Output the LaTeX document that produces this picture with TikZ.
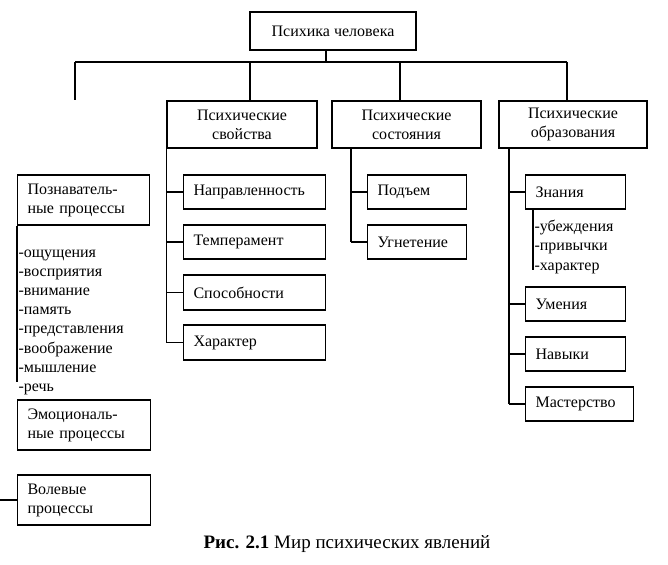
\documentclass[tikz,border=0pt]{standalone}
\usepackage{fontspec}
\setmainfont{Liberation Serif}
\begin{document}
\begin{tikzpicture}[x=1pt,y=-1pt,
  every path/.style={line width=1.1pt},
  txt/.style={font=\fontsize{16}{19}\selectfont},
  cbox/.style={txt, draw, line width=1.1pt, align=center, inner sep=0pt},
  lbox/.style={txt, draw, line width=1.1pt, align=left, inner xsep=10pt, inner ysep=0pt},
  list/.style={font=\fontsize{16}{19.2}\selectfont, align=left, inner sep=0pt, anchor=base west},
  con/.style={line width=1.1pt}]
\useasboundingbox (0,0) rectangle (668,564);

% top
\node[cbox, minimum width=166, minimum height=38] (top) at (333,31) {Психика человека};
\node[cbox, minimum width=150, minimum height=47] (svo) at (242,124.5) {Психические\\свойства};
\node[cbox, minimum width=149, minimum height=47] (sos) at (406.5,124.5) {Психические\\состояния};
\node[cbox, minimum width=148, minimum height=47] (obr) at (573,124.5) {Психические\\образования};

\coordinate (topd) at (326,50);
\coordinate (hl) at (75,62);
\coordinate (hr) at (567,62);
\coordinate (d0e) at (75,100);
\coordinate (d1) at (250,62);
\coordinate (d2) at (400,62);
\draw[con] (topd) -- (topd |- hl);
\draw[con] (hl) -- (hr);
\draw[con] (hl) -- (d0e);
\draw[con] (d1) -- (d1 |- svo.north);
\draw[con] (d2) -- (d2 |- sos.north);
\draw[con] (hr) -- (hr |- obr.north);

% left column
\node[lbox, anchor=west, minimum height=50, text width=112pt] (poz) at (17,200) {Познаватель-\\ные процессы};
\node[list] (plist) at (18,391.4) {-ощущения\\-восприятия\\-внимание\\-память\\-представления\\-воображение\\-мышление\\-речь};
\coordinate (pozv) at (17,382);
\draw[con] (poz.south west) -- (pozv);
\node[lbox, anchor=west, minimum height=50, text width=113pt] (emo) at (17,425) {Эмоциональ-\\ные процессы};
\node[lbox, anchor=west, minimum height=50, text width=113pt] (vol) at (17,500) {Волевые\\процессы};
\coordinate (vs) at (0,500);
\draw[con] (vs) -- (vol.west);

% properties
\node[lbox, anchor=west, minimum height=34, text width=122pt] (napr) at (183,192) {Направленность};
\node[lbox, anchor=west, minimum height=34, text width=122pt] (temp) at (183,242) {Темперамент};
\node[lbox, anchor=west, minimum height=35, text width=122pt] (spos) at (183,292.5) {Способности};
\node[lbox, anchor=west, minimum height=35, text width=122pt] (har) at (183,342.5) {Характер};
\draw[con] (svo.south west) -- (svo.south west |- har.west);
\foreach \b in {napr,temp,spos,har}
  \draw[con] (svo.south west |- \b.west) -- (\b.west);

% states
\node[lbox, anchor=west, minimum height=34, text width=79pt] (pod) at (367,192) {Подъем};
\node[lbox, anchor=west, minimum height=34, text width=79pt] (ugn) at (367,242) {Угнетение};
\coordinate (sosv) at (351,148);
\draw[con] (sosv) -- (sosv |- ugn.west);
\foreach \b in {pod,ugn}
  \draw[con] (sosv |- \b.west) -- (\b.west);

% formations
\node[lbox, anchor=west, minimum height=34, text width=80pt] (zn) at (525,192) {Знания};
\node[list] (zlist) at (534,270) {-убеждения\\-привычки\\-характер};
\coordinate (znv) at (533,270);
\draw[con] (znv |- zn.south) -- (znv);
\node[lbox, anchor=west, minimum height=34, text width=80pt] (um) at (525,304) {Умения};
\node[lbox, anchor=west, minimum height=34, text width=80pt] (nav) at (525,354) {Навыки};
\node[lbox, anchor=west, minimum height=34, text width=88pt] (mas) at (525,404) {Мастерство};
\coordinate (obrv) at (509,148);
\draw[con] (obrv) -- (obrv |- mas.west);
\foreach \b in {zn,um,nav,mas}
  \draw[con] (obrv |- \b.west) -- (\b.west);

% caption
\node[font=\fontsize{19}{22}\selectfont, inner sep=0pt, anchor=base] (cap) at (347,548) {\textbf{Рис. 2.1} Мир психических явлений};
\end{tikzpicture}
\end{document}
